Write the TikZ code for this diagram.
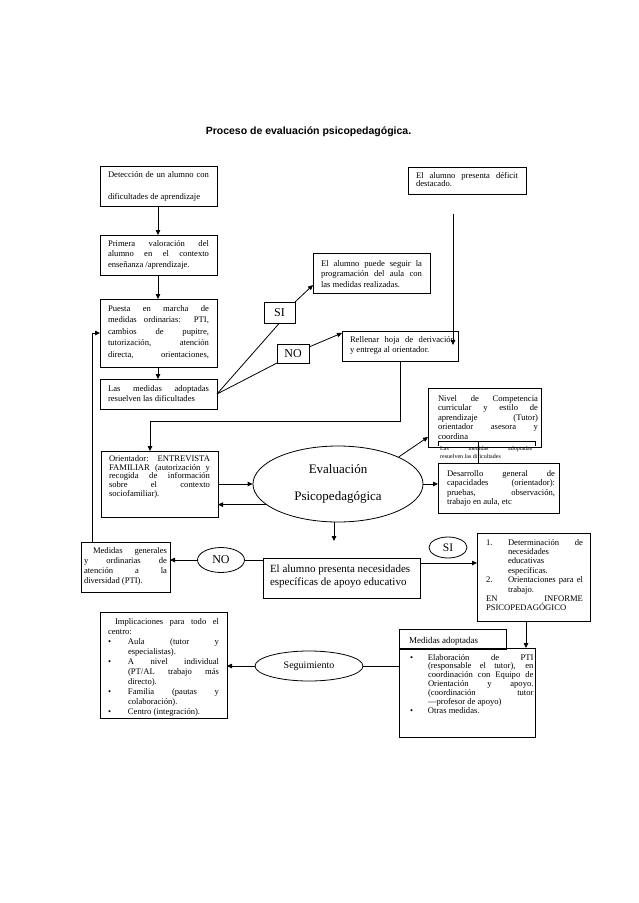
\documentclass[tikz,border=0pt]{standalone}
\usepackage{fontspec}
\setmainfont{Liberation Serif}
\newfontfamily\titlefont{Liberation Sans}
\usetikzlibrary{arrows.meta,shapes.geometric}
\newlength\bpad \bpad=8pt
\newlength\rpad \rpad=8pt
\newlength\bind \bind=20pt
\newlength\findent \findent=0pt
\newcommand\xsr{\vrule height 10pt depth 0pt width 0pt}
\newcommand\tbox[5]{\vbox to #2{\hrule width #1 height 0pt depth 0pt\kern\dimexpr#3-10pt\relax
 \moveright\bpad\vbox{\hsize=\dimexpr#1-\bpad-\rpad\relax\baselineskip=#4\relax\lineskiplimit=-50pt\lineskip=0pt\relax\parindent=0pt #5}\vss}}
\newcommand\xjl[1]{\hbox to\hsize{\xsr#1}}
\newcommand\xlf[1]{\hbox to\hsize{\xsr#1\hfil}}
\newcommand\xfj[1]{\hbox to\hsize{\xsr\hskip\findent#1}}
\newcommand\xbj[1]{\hbox to\hsize{\xsr\hbox to\bind{\textbullet\hfil}#1}}
\newcommand\xbl[1]{\hbox to\hsize{\xsr\hbox to\bind{\textbullet\hfil}#1\hfil}}
\newcommand\xij[1]{\hbox to\hsize{\xsr\hskip\bind#1}}
\newcommand\xil[1]{\hbox to\hsize{\xsr\hskip\bind#1\hfil}}
\newcommand\xnj[2]{\hbox to\hsize{\xsr\hbox to\bind{#1\hfil}#2}}
\tikzset{
 bx/.style={draw, line width=0.8pt, inner sep=0pt, outer sep=0pt, anchor=north west, font=\fontsize{8.6}{10}\selectfont},
 arr/.style={line width=0.8pt, -{Triangle[length=5pt,width=4.5pt]}},
 ln/.style={line width=0.8pt},
 elp/.style={draw, ellipse, line width=0.8pt, inner sep=0pt},
}
\begin{document}
\begin{tikzpicture}[x=1pt,y=-1pt]
\useasboundingbox[fill=white] (0,0) rectangle (638,903);
\node[anchor=base, inner sep=0pt, font=\titlefont\bfseries\fontsize{10.5}{12}\selectfont] (title) at (308.5,134) {Proceso de evaluación psicopedagógica.};

\node[bx] (det) at (100,166) {\tbox{117pt}{40pt}{11pt}{22pt}{\xjl{Detección de un alumno con}\xlf{dificultades de aprendizaje}}};
\node[bx] (prim) at (100,235) {\tbox{117pt}{40pt}{11pt}{10.5pt}{\xjl{Primera valoración del}\xjl{alumno en el contexto}\xlf{enseñanza /aprendizaje.}}};
\node[bx] (puesta) at (100,299) {\tbox{117pt}{68pt}{12pt}{11.6pt}{\xjl{Puesta en marcha de}\xjl{medidas ordinarias: PTI,}\xjl{cambios de pupitre,}\xjl{tutorización, atención}\xjl{directa, orientaciones,}}};
\node[bx] (lasmed) at (100,379) {\tbox{117pt}{30pt}{12pt}{10pt}{\xjl{Las medidas adoptadas}\xlf{resuelven las dificultades}}};
\node[bx] (puede) at (313,253) {\tbox{117pt}{40pt}{13pt}{10.5pt}{\xjl{El alumno puede seguir la}\xjl{programación del aula con}\xlf{las medidas realizadas.}}};
\node[bx] (def) at (408,167) {\tbox{118pt}{27pt}{11pt}{8.7pt}{\xjl{El alumno presenta déficit}\xlf{destacado.}}};
\node[bx] (rell) at (342,331) {\rpad=3pt\relax\tbox{116pt}{30pt}{11pt}{10pt}{\xjl{Rellenar hoja de derivación}\xlf{y entrega al orientador.}}};
\node[bx, font=\fontsize{12}{14}\selectfont, minimum width=31pt, minimum height=21pt] (si) at (264,302) {SI};
\node[bx, font=\fontsize{12}{14}\selectfont, minimum width=32pt, minimum height=19pt] (no) at (277,344) {NO};

\node[elp, minimum width=170pt, minimum height=76pt, font=\fontsize{13}{27}\selectfont, align=center] (eval) at (338,484) {Evaluación\\Psicopedagógica};
\node[bx] (orient) at (101,451) {\tbox{117pt}{66pt}{10.5pt}{8.7pt}{\xjl{Orientador: ENTREVISTA}\xjl{FAMILIAR (autorización y}\xjl{recogida de información}\xjl{sobre el contexto}\xlf{sociofamiliar).}}};
\node[bx] (nivel) at (428,388) {\bpad=10pt\relax\rpad=3pt\relax\tbox{113pt}{59pt}{13pt}{9.5pt}{\xjl{Nivel de Competencia}\xjl{curricular y estilo de}\xjl{aprendizaje (Tutor)}\xjl{orientador asesora y}\xlf{coordina}}};
\node[anchor=north west, inner sep=0pt, font=\fontsize{6}{7}\selectfont] (ovf) at (438,442) {\bpad=2pt\relax\rpad=4pt\relax\tbox{98pt}{20pt}{8pt}{8.5pt}{\xjl{Las medidas adoptadas}\xlf{resuelven las dificultades}}};
\draw[line width=0.6pt] (438,446) -- (438,441) -- (535,441) -- (535,446);
\node[bx] (des) at (438,463) {\bpad=9pt\relax\rpad=4pt\relax\tbox{121pt}{50pt}{13pt}{9.5pt}{\xjl{Desarrollo general de}\xjl{capacidades (orientador):}\xjl{pruebas, observación,}\xlf{trabajo en aula, etc}}};

\node[bx] (medgen) at (81,542) {\bpad=3pt\relax\rpad=3pt\relax\findent=9pt\relax\tbox{89pt}{50pt}{11pt}{10pt}{\xfj{Medidas generales}\xjl{y ordinarias de}\xjl{atención a la}\xlf{diversidad (PTI).}}};
\node[elp, minimum width=47pt, minimum height=25pt, font=\fontsize{12}{14}\selectfont] (noel) at (221,560) {NO};
\node[bx, font=\fontsize{11}{13}\selectfont] (nec) at (263,558) {\bpad=7pt\relax\rpad=4pt\relax\tbox{157pt}{40pt}{14pt}{13pt}{\xlf{El alumno presenta necesidades}\xlf{específicas de apoyo educativo}}};
\node[elp, minimum width=38pt, minimum height=21pt, font=\fontsize{11.5}{14}\selectfont] (siel) at (448,547.5) {SI};
\node[bx] (determ) at (477,533) {\bpad=9pt\relax\rpad=7pt\relax\bind=22pt\relax\tbox{113pt}{88pt}{12pt}{9.4pt}{\xnj{1.}{Determinación de}\xil{necesidades}\xil{educativas}\xil{específicas.}\xnj{2.}{Orientaciones para el}\xil{trabajo.}\xjl{EN INFORME}\xlf{PSICOPEDAGÓGICO}}};

\node[bx, font=\fontsize{9}{11}\selectfont] (medtab) at (399,629) {\bpad=10pt\relax\tbox{107pt}{20pt}{14pt}{12pt}{\xlf{Medidas adoptadas}}};
\node[bx] (medmain) at (399,648) {\bpad=11pt\relax\rpad=1.5pt\relax\bind=18pt\relax\tbox{136pt}{89pt}{12pt}{8.9pt}{\xbj{Elaboración de PTI}\xij{(responsable el tutor), en}\xij{coordinación con Equipo de}\xij{Orientación y apoyo.}\xij{(coordinación tutor}\xil{—profesor de apoyo)}\xbl{Otras medidas.}}};
\node[elp, minimum width=108pt, minimum height=30pt, font=\fontsize{10}{12}\selectfont] (seg) at (309,666) {Seguimiento};
\node[bx] (impl) at (100,612) {\findent=7pt\relax\tbox{127pt}{106pt}{12pt}{10pt}{\xfj{Implicaciones para todo el}\xlf{centro:}\xbj{Aula (tutor y}\xil{especialistas).}\xbj{A nivel individual}\xij{(PT/AL trabajo más}\xil{directo).}\xbj{Familia (pautas y}\xil{colaboración).}\xbl{Centro (integración).}}};

% connectors
\draw[arr] ([xshift=58pt]det.south west) -- ([xshift=58pt]prim.north west);
\draw[arr] ([xshift=58pt]prim.south west) -- ([xshift=58pt]puesta.north west);
\draw[arr] ([xshift=58pt]puesta.south west) -- ([xshift=58pt]lasmed.north west);
\draw[ln] (lasmed.east) -- (si.south);
\draw[arr] (si.north east) -- ([yshift=8pt]puede.south west);
\draw[ln] (lasmed.east) -- (no.south west);
\draw[arr] ([yshift=-3pt]no.north east) -- ([yshift=-2pt]rell.north west);
\coordinate (d0) at (453,214);
\draw[arr] (d0) -- ([xshift=111pt]rell.south west |- 0,345);
\draw[arr] ([xshift=58pt]rell.south west) -- ++(0,60) -| ([xshift=49pt]orient.north west);
\draw[arr] (orient.east) -- (eval.west);
\draw[arr] (eval.196) -- (eval.196 -| orient.east);
\draw[arr] (eval.24) -- ([yshift=10pt]nivel.south west);
\draw[arr] (eval.east) -- (eval.east -| des.west);
\draw[ln] ([xshift=40pt]des.north west) -- ++(0,-22);
\coordinate (e1) at (334,541);
\draw[arr] (e1 |- eval.south) -- (e1);
\draw[ln] (noel.east) -- (noel.east -| nec.west);
\draw[arr] (noel.west) -- (noel.west -| medgen.east);
\draw[arr] ([xshift=11pt]medgen.north west) |- (puesta.west);
\draw[arr] ([yshift=-5pt]nec.north east) -- ([yshift=-5pt]nec.north east -| determ.west);
\draw[arr] ([xshift=49pt]determ.south west) -- ([xshift=127pt]medmain.north west);
\draw[ln] (seg.east) -- (seg.east -| medmain.west);
\draw[arr] (seg.west) -- (seg.west -| impl.east);
\end{tikzpicture}
\end{document}
